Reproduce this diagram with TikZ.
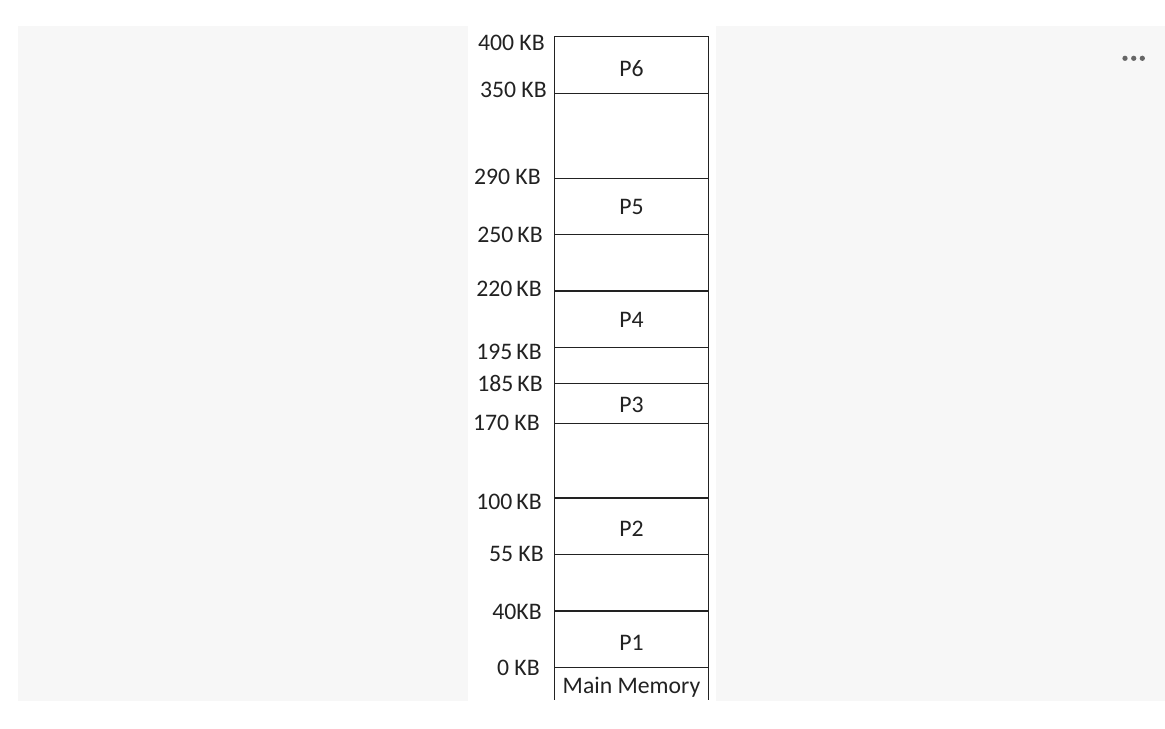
\documentclass[tikz,border=0pt]{standalone}
\usepackage{fontspec}
\setmainfont{Carlito}
\definecolor{pagebg}{HTML}{F7F7F7}
\definecolor{dotgray}{HTML}{666666}
\definecolor{inkgray}{HTML}{222222}
\tikzset{
  memline/.style={draw=inkgray, line width=0.6pt},
  kblabel/.style={anchor=east, inner sep=0pt, text=inkgray, font=\fontsize{13.5}{16}\selectfont},
  plabel/.style={inner sep=0pt, text=inkgray, font=\fontsize{13.5}{16}\selectfont}
}
\begin{document}
\begin{tikzpicture}[x=0.02cm, y=-0.02cm]
   \useasboundingbox (0,0) rectangle (1165,729);
   \fill[pagebg] (18,26) rectangle (1165,701);
   \fill[white] (468,26) rectangle (716,701);

   % menu dots
   \foreach \dx in {1125,1133.7,1142.3}
     \fill[dotgray] (\dx,58.3) circle (1.5pt);

   % memory column
   \draw[memline] (554.3,36.5) -- (554.3,700);
   \draw[memline] (708.7,36.5) -- (708.7,700);

   \foreach \ly/\ty/\tx/\lab [count=\i] in {
       36.5/43/545/{400 KB}, 93.3/90/547/{350 KB}, 178.3/177/541/{290 KB},
       234.7/235/543/{250\,KB}, 291/289/542/{220\,KB}, 347.7/351.5/542/{195\,KB},
       383.7/383.3/543/{185\,KB}, 423.3/422.7/540/{170 KB}, 498/501.5/542/{100\,KB},
       554.3/554/544/{55 KB}, 611/612/542/{40KB}, 667.7/668/540/{0 KB}} {
     \draw[memline] (554.3,\ly) -- (708.7,\ly);
     \node[kblabel] (kb\i) at (\tx,\ty) {\lab};
   }

   \foreach \py/\lab in {68.3/6, 206.7/5, 320/4, 405/3, 528.3/2, 643/1}
     \node[plabel] (p\lab) at (631.5,\py) {P\lab};

   \node[plabel, anchor=base] (mainmem) at (631.5,693.5) {Main Memory};
\end{tikzpicture}
\end{document}
